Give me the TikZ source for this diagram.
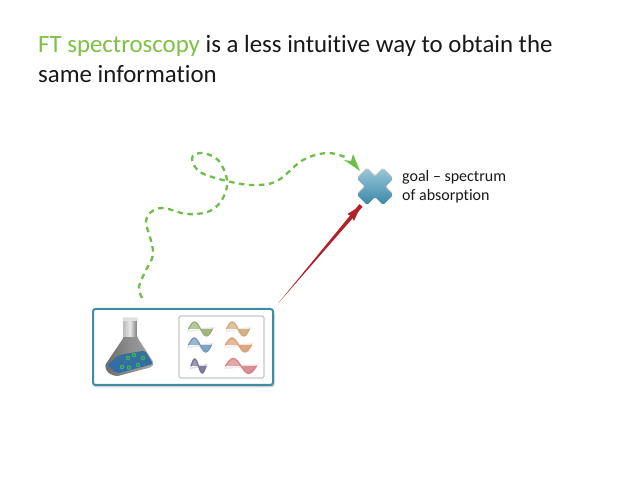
\documentclass[tikz,border=0pt]{standalone}
\usepackage{fontspec}
\setmainfont[Ligatures=NoCommon]{Carlito}
\usetikzlibrary{arrows.meta,calc,shadows.blur}
\definecolor{ftgreen}{HTML}{7DC242}
\definecolor{pathgreen}{HTML}{6FBE4A}
\definecolor{teal}{HTML}{3E8DA3}
\definecolor{arrowred}{HTML}{B3202A}
\definecolor{wgreen}{HTML}{97B076}
\definecolor{wtan}{HTML}{CFAB7C}
\definecolor{wblue}{HTML}{7599BE}
\definecolor{worange}{HTML}{D99E76}
\definecolor{wpurple}{HTML}{767194}
\definecolor{wpink}{HTML}{D6848A}
\definecolor{liqtop}{HTML}{3A7096}
\definecolor{liqbot}{HTML}{2C6CAE}
\definecolor{crosstop}{HTML}{97C6D6}
\definecolor{crossbot}{HTML}{3A87A6}
\tikzset{
  x=1pt,y=-1pt,
  title/.style={anchor=base west,inner sep=0,font=\fontsize{24.85}{30}\selectfont,text=black!90},
  caption/.style={anchor=base west,inner sep=0,font=\fontsize{16}{18}\selectfont,text=black!90},
  wandering/.style={pathgreen,line width=2.3,dash pattern=on 5.5 off 4.5}
}
\newcommand{\wavy}[5]{% x,y,width,amp,colour
  \begin{scope}[shift={(#1,#2)}]
    \fill[#5!18] (-1.5,1.5) -- (#3+2,-2.5) -- (#3+2,-.5) -- (-1.5,3.5) -- cycle;
    \fill[#5,opacity=.7] (0,0) sin (#3*.25,-#4) cos (#3*.5,0) -- cycle;
    \fill[#5,opacity=.9] (#3*.5,0) sin (#3*.75,#4) cos (#3,0) -- cycle;
    \draw[#5,line width=1.3,line cap=round] (0,0) sin (#3*.25,-#4) cos (#3*.5,0) sin (#3*.75,#4) cos (#3,0);
  \end{scope}}
\begin{document}
\begin{tikzpicture}
\useasboundingbox (0,0) rectangle (638,478);
\fill[white] (0,0) rectangle (638,478);
% title
\node[title] (t1) at (38,53) {\textcolor{ftgreen}{FT spectroscopy} is a less intuitive way to obtain the};
\node[title] (t2) at (38,83) {same information};
\node[caption] (c1) at (402,181.5) {goal – spectrum};
\node[caption] (c2) at (402,200.5) {of absorption};
% main box
\fill[black!18,rounded corners=3] (93,311) rectangle (274.5,387.5);
\node[draw=teal,line width=2,rounded corners=2.5,fill=white,minimum width=180,minimum height=76,inner sep=0] (box) at (183,347) {};
\node[draw=black!22,line width=1.2,rounded corners=1.5,fill=white,minimum width=85,minimum height=62,inner sep=0] (panel) at (221.5,347) {};
% flask
\shade[left color=black!58,right color=black!35,middle color=black!45,rounded corners=3]
  (124,325) -- (124,337) -- (104.5,366) -- (108,373) -- (116,376.5) -- (152,367) -- (154,363) -- (137,337) -- (136,325) -- cycle;
\shade[left color=black!25,right color=black!48,middle color=black!10] (123.5,319) rectangle (136.5,337);
\fill[black!12,rounded corners=1] (122.5,317.5) rectangle (137.5,321);
\shade[top color=liqtop,bottom color=liqbot,rounded corners=2]
  (119,355) -- (145,350.5) -- (153,364) -- (117,373.5) -- (107.5,365) -- cycle;
\foreach \p in {(122,367),(129,367.5),(138,365),(143,358),(128,358),(134,355)}{
  \fill[green!70!white,opacity=.5] \p circle (2.2);
  \fill[green!45!black!80!white] \p circle (1.3);}
% sine glyphs
\wavy{188.5}{329}{24}{7}{wgreen}
\wavy{226.5}{329}{23}{7}{wtan}
\wavy{188.5}{345}{23}{7}{wblue}
\wavy{225.5}{345}{26}{7}{worange}
\wavy{191}{366}{15}{7}{wpurple}
\wavy{225.5}{366}{31}{7.5}{wpink}
% goal cross
\node[minimum size=34,inner sep=0] (goal) at (375,187) {};
\fill[black!22,rounded corners=1.5,yshift=1.5]
  (367,169) -- (375,177) -- (383,169) -- (393,179) -- (385,187) -- (393,195) -- (383,205) -- (375,197) -- (367,205) -- (357,195) -- (365,187) -- (357,179) -- cycle;
\shade[top color=crosstop,bottom color=crossbot,rounded corners=1.5]
  (367,169) -- (375,177) -- (383,169) -- (393,179) -- (385,187) -- (393,195) -- (383,205) -- (375,197) -- (367,205) -- (357,195) -- (365,187) -- (357,179) -- cycle;
% wandering path
\coordinate (pstart) at (142,298);
\coordinate (pend) at (360,171);
\draw[wandering] plot[smooth,tension=.6] coordinates {
  (pstart) (139,287) (145,272) (153,255) (150,237) (146,223) (150,213) (163,208) (187,214) (210,211)
  (223,198) (227,180) (218,160) (202,153) (192,158) (200,172) (227,181) (253,185) (277,181)
  (303,160) (327,153) (345,157)};
\fill[pathgreen] (pend) -- (353,154) -- (351,161) -- (344,160) -- cycle;
% red arrow
\coordinate (rstart) at (278,303.5);
\coordinate (rend) at (361,205.5);
\fill[arrowred] (rstart) -- ($(rend)!2.1pt!90:(rstart)$) -- ($(rend)!2.1pt!-90:(rstart)$) -- cycle;
\fill[arrowred] (rend) -- (347.5,214) -- (351.5,216.5) -- (354,221) -- cycle;
\end{tikzpicture}
\end{document}
